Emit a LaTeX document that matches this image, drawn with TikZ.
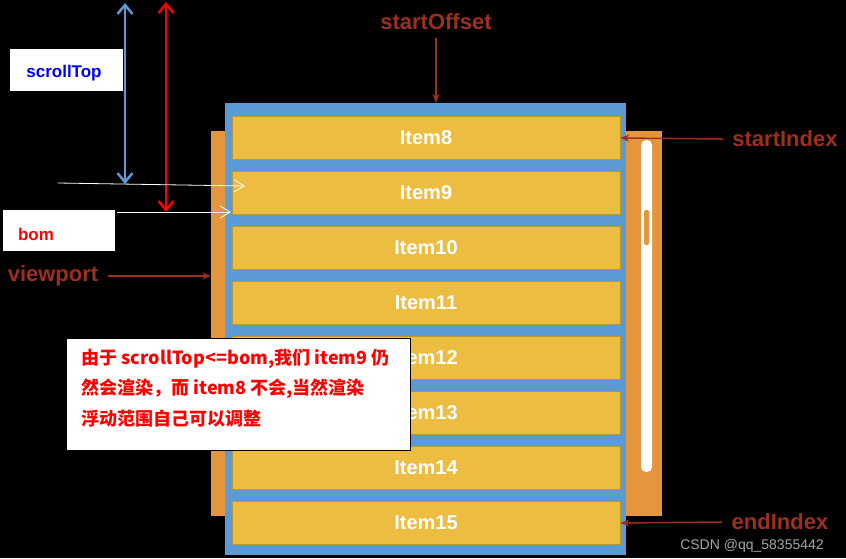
\documentclass[tikz,border=0pt]{standalone}
\usepackage{fontspec}
\setmainfont{Liberation Sans}
\newfontfamily\cjk{Noto Sans CJK SC}
\usetikzlibrary{arrows.meta}
\definecolor{itemyellow}{HTML}{EDBD42}
\definecolor{listblue}{HTML}{5B9BD5}
\definecolor{vieworange}{HTML}{E5963C}
\definecolor{darkbrown}{HTML}{9E2F1F}
\definecolor{scrollblue}{HTML}{5B9BD5}
\tikzset{
  itembox/.style = {fill=itemyellow, draw=itemyellow!80!black, minimum width=388pt,
    minimum height=43pt, inner sep=0pt, text=white, font=\bfseries\fontsize{20}{20}\selectfont},
  tagtext/.style = {text=darkbrown, font=\bfseries\fontsize{22}{22}\selectfont},
  tagarrow/.style = {draw=darkbrown, line width=1.5pt, -{Stealth[length=9pt,width=7pt]}},
  whitebox/.style = {fill=white, inner sep=0pt}
}
\begin{document}
\begin{tikzpicture}[x=1pt, y=-1pt]
  \fill[black] (0,0) rectangle (846,558);
  \useasboundingbox (0,0) rectangle (846,558);

  % viewport and list
  \fill[vieworange] (211,131) rectangle (662,516);
  \fill[listblue] (225,103) rectangle (626,555);
  \fill[white, rounded corners=5pt] (641,140) rectangle (652,472);
  \fill[vieworange, rounded corners=2pt] (644,210) rectangle (649,245);

  \foreach \i [count=\k from 0] in {8,...,15}
    \node[itembox] (item\i) at (426,{138+55*\k}) {Item\i};

  % labels
  \node[tagtext] (startoffset) at (436,22) {startOffset};
  \node[tagtext] (startindex) at (785,139) {startIndex};
  \node[tagtext] (viewport) at (53,276) {viewport};
  \node[tagtext] (endindex) at (780,522) {endIndex};
  \coordinate (listtop) at (436,103);
  \coordinate (viewleft) at (211,276);
  \draw[tagarrow] (startoffset.south) ++(0,4) -- (listtop);
  \draw[tagarrow] (startindex.west) ++(-6,0) -- (item8.east);
  \draw[tagarrow] (viewport.east) ++(6,0) -- (viewleft);
  \draw[tagarrow] (endindex.west) ++(-6,0) -- (item15.east);

  % scrollTop and bom
  \node[whitebox, minimum width=113pt, minimum height=42pt] (scrolltop) at (66,70) {};
  \node[text=blue, font=\bfseries\fontsize{17}{17}\selectfont] at (64,73) {scrollTop};
  \node[whitebox, minimum width=112pt, minimum height=41pt] (bom) at (59,230) {};
  \node[text=red, font=\bfseries\fontsize{17}{17}\selectfont] at (36,234) {bom};
  \coordinate (bluetop) at (125,3);
  \coordinate (bluebot) at (125,184);
  \coordinate (redtop) at (166,2);
  \coordinate (redbot) at (166,212);
  \draw[scrollblue, line width=2.5pt, {Straight Barb[length=9pt,width=15pt]}-{Straight Barb[length=9pt,width=15pt]}] (bluetop) -- (bluebot);
  \draw[red, line width=2.5pt, {Straight Barb[length=9pt,width=15pt]}-{Straight Barb[length=9pt,width=15pt]}] (redtop) -- (redbot);
  \coordinate (toparrow) at (58,183);
  \coordinate (bomarrow) at (117,212);
  \draw[white, line width=0.8pt, -{Straight Barb[length=10pt,width=12pt]}] (toparrow) -- (245,186);
  \draw[white, line width=0.8pt, -{Straight Barb[length=10pt,width=12pt]}] (bomarrow) -- (231,212);

  % note
  \node[draw=black, fill=white, minimum width=344pt, minimum height=112pt, inner sep=0pt] (note) at (238,394) {};
  \node[anchor=west, text=red, align=left, font=\cjk\bfseries\fontsize{18}{30.5}\selectfont] at (78,388)
    {由于 scrollTop<=bom,我们 item9 仍\\然会渲染，而 item8 不会,当然渲染\\浮动范围自己可以调整};

  % watermark
  \node[text=gray!70, font=\fontsize{14}{14}\selectfont] (mark) at (752,546) {CSDN @qq\_58355442};
\end{tikzpicture}
\end{document}
